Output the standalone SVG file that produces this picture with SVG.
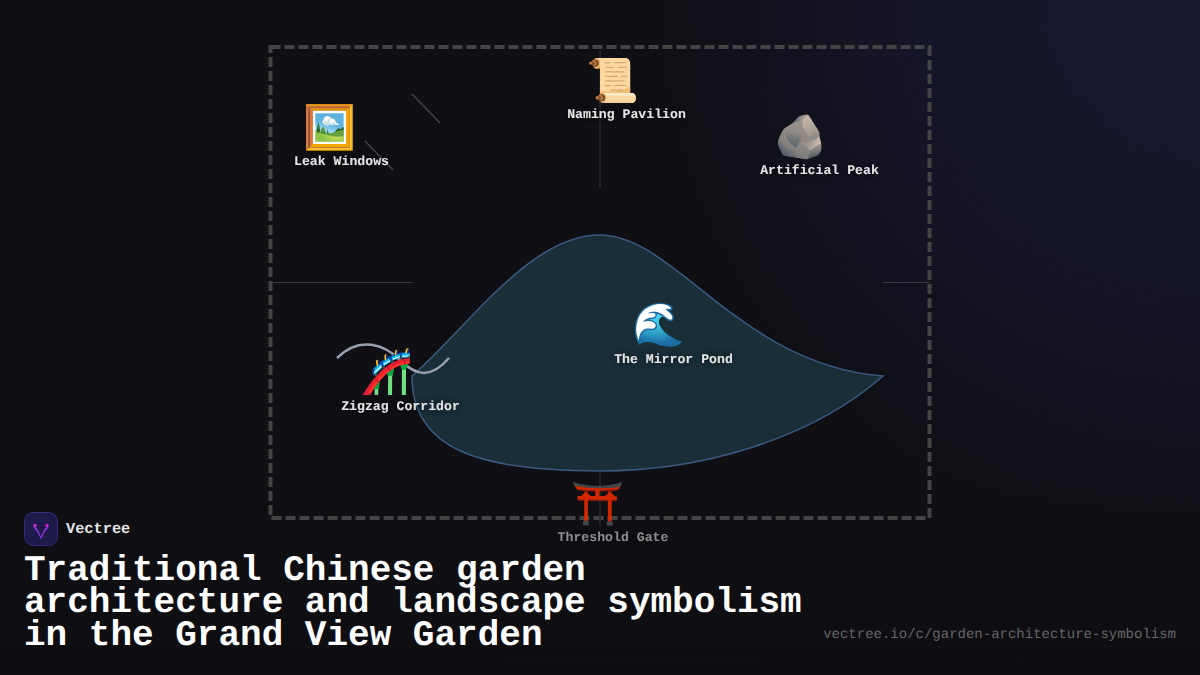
<svg xmlns="http://www.w3.org/2000/svg" width="1200" height="675" viewBox="0 0 1200 675">
<style>
text{text-rendering:geometricPrecision}
.lbl{font-family:"Liberation Mono",monospace;font-weight:700;font-size:13.2px;fill:#e5e5e5;text-anchor:middle;filter:url(#halo)}
.emo{font-size:42.5px;text-anchor:middle;font-family:"Noto Color Emoji","Liberation Sans",sans-serif}
.title{font-family:"Liberation Mono",monospace;font-weight:700;font-size:36px;fill:#fff}
</style>
<defs>
<radialGradient id="glow" gradientUnits="userSpaceOnUse" cx="1200" cy="0" r="560">
<stop offset="0" stop-color="#1a1a38" stop-opacity=".8"/><stop offset=".5" stop-color="#1a1a38" stop-opacity=".55"/><stop offset="1" stop-color="#1a1a38" stop-opacity="0"/>
</radialGradient>
<linearGradient id="fade" x1="0" y1="0" x2="0" y2="1"><stop offset="0" stop-color="#0d0d12" stop-opacity="0"/><stop offset="1" stop-color="#0d0d12" stop-opacity=".9"/></linearGradient>
<filter id="halo" x="-20%" y="-60%" width="140%" height="220%"><feDropShadow dx="0" dy="0" stdDeviation="4" flood-color="#0d0d12" flood-opacity=".7"/></filter>
</defs>
<rect width="1200" height="675" fill="#0f0f14"/>
<rect width="1200" height="675" fill="url(#glow)"/>
<rect y="470" width="1200" height="205" fill="url(#fade)"/>
<rect id="garden-wall" x="270.500" y="47" width="659" height="471" fill="none" stroke="#444" stroke-width="4" stroke-dasharray="10 4"/>
<g id="connectors" fill="none">
<path stroke="#444" stroke-width="1.500" d="M412 94L440 123M365 141L393 170"/>
<path stroke="#2a2a2e" stroke-width="1.500" d="M600 50V188M600 472V526"/>
<path stroke="#3a3a3e" stroke-width="1" d="M272 282.500H412M883 282.500H930"/>
</g>
<g id="pond-shape"><path d="M412 376C470 325 530 235 600 235C675 235 740 365 883 376C810 440 700 471 600 471C480 471 412 450 412 376Z" fill="#1a2e38" stroke="#3a5a80" stroke-width="1.500"/></g>
<g id="zigzag-path"><path d="M337 358C360 335 385 345 400 360S430 380 449 358" fill="none" stroke="#9aa0b0" stroke-width="2.500"/></g>
<g id="leak-windows"><text class="emo" x="330" y="141.500">🖼️</text><text class="lbl" x="341.500" y="165">Leak Windows</text></g>
<g id="naming-pavilion"><text class="emo" x="613" y="94.500">📜</text><text class="lbl" x="626.500" y="118">Naming Pavilion</text></g>
<g id="artificial-peak"><text class="emo" x="801" y="151">🪨</text><text class="lbl" x="819.500" y="174">Artificial Peak</text></g>
<g id="mirror-pond"><text class="emo" x="659" y="338.500">🌊</text><text class="lbl" x="673.500" y="363">The Mirror Pond</text></g>
<g id="zigzag-corridor"><text class="emo" x="386.500" y="385.500">🎢</text><text class="lbl" x="400.500" y="410">Zigzag Corridor</text></g>
<g id="threshold-gate"><text class="emo" x="598" y="518" opacity=".9">⛩️</text><text class="lbl" x="613" y="541" style="fill:#8c8c8c">Threshold Gate</text></g>
<g id="brand">
<rect x="24.500" y="512.500" width="33" height="33" rx="9" fill="#1e1b4b" stroke="#312e81"/>
<path d="M36 528L41 538L46 528M38.500 532L34 527M43.500 532L48 527" fill="none" stroke="#9333ea" stroke-width="1.200"/>
<circle cx="35" cy="525.500" r="1.800" fill="#c026d3"/><circle cx="47" cy="525.500" r="1.800" fill="#c026d3"/>
<text x="66" y="533" font-family="Liberation Mono,monospace" font-weight="700" font-size="15.300" fill="#e5e5e5">Vectree</text>
</g>
<g id="title">
<text class="title" x="24" y="580">Traditional Chinese garden</text>
<text class="title" x="24" y="612.400">architecture and landscape symbolism</text>
<text class="title" x="24" y="644.800">in the Grand View Garden</text>
</g>
<text id="url" x="1176" y="638" text-anchor="end" font-family="Liberation Mono,monospace" font-size="14" fill="#666">vectree.io/c/garden-architecture-symbolism</text>
</svg>
